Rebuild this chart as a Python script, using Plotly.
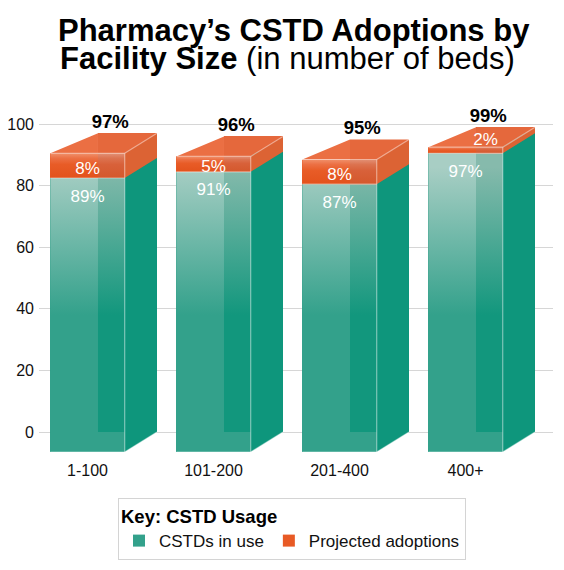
import plotly.graph_objects as go

# data
categories = ["1-100", "101-200", "201-400", "400+"]
in_use = [89, 91, 87, 97]        # CSTDs in use (%)
projected = [8, 5, 8, 2]         # projected adoptions (%)
totals = [a + b for a, b in zip(in_use, projected)]

# pseudo-3D box geometry (axis units)
FW = 0.59      # front face width
BW = 0.468     # back face width
DX = 0.317     # back face shift to the right
DEPTH = 6.5    # front face drop below the back face

TEAL_BACK = "#0e967c"
ORANGE = "#e85a25"
FONT = "Liberation Sans"


def polys(shapes):
    xs, ys = [], []
    for pts in shapes:
        xs += [p[0] for p in pts] + [pts[0][0], None]
        ys += [p[1] for p in pts] + [pts[0][1], None]
    return xs, ys


def rect(x0, x1, y0, y1):
    return [(x0, y0), (x1, y0), (x1, y1), (x0, y1)]


def poly_trace(shapes, color=None, gradient=None):
    xs, ys = polys(shapes)
    tr = dict(x=xs, y=ys, mode="lines", line=dict(width=0), fill="toself",
              hoverinfo="skip", showlegend=False)
    if gradient is not None:
        tr["fillgradient"] = gradient
    else:
        tr["fillcolor"] = color
    return go.Scatter(**tr)


idx = list(range(len(categories)))
geo = []
for i in idx:
    geo.append(dict(fl=i - FW / 2, fr=i + FW / 2,
                    bl=i + DX - BW / 2, br=i + DX + BW / 2,
                    g=in_use[i], t=totals[i], p=projected[i]))

fig = go.Figure()

# back faces (at the axis scale)
fig.add_trace(go.Bar(x=[i + DX for i in idx], y=in_use, base=0, width=BW,
                     marker=dict(color=TEAL_BACK, line=dict(width=0)),
                     showlegend=False, hoverinfo="skip"))
fig.add_trace(go.Bar(x=[i + DX for i in idx], y=projected, base=in_use, width=BW,
                     marker=dict(color="#e4683c", line=dict(width=0)),
                     showlegend=False, hoverinfo="skip"))

# front faces
fig.add_trace(go.Bar(x=idx, y=in_use, base=[-DEPTH] * len(idx), width=FW,
                     name="CSTDs in use",
                     marker=dict(color="rgba(23,148,123,0.88)", line=dict(width=0)),
                     hoverinfo="skip"))
fig.add_trace(go.Bar(x=idx, y=projected, base=[g - DEPTH for g in in_use], width=FW,
                     name="Projected adoptions",
                     marker=dict(color=ORANGE, line=dict(width=0)),
                     hoverinfo="skip"))

# front green face with its glassy gradient
fig.add_trace(poly_trace(
    [rect(d["fl"], d["fr"], -DEPTH, d["g"] - DEPTH) for d in geo],
    gradient=dict(type="vertical", start=38, stop=86,
                  colorscale=[[0, "rgb(51,161,139)"], [1, "rgb(168,206,196)"]])))
# back face seen through the front
fig.add_trace(poly_trace(
    [rect(d["bl"], d["fr"], 0, d["g"] - DEPTH) for d in geo],
    gradient=dict(type="vertical", start=38, stop=86,
                  colorscale=[[0, "rgb(18,151,125)"], [1, "rgb(134,186,172)"]])))

# front orange faces (gradient per bar)
for d in geo:
    y0, y1 = d["g"] - DEPTH, d["t"] - DEPTH
    fig.add_trace(poly_trace(
        [rect(d["fl"], d["fr"], y0, y1)],
        gradient=dict(type="vertical", start=y0, stop=y1,
                      colorscale=[[0, "#e3521c"], [0.55, "#e85c27"],
                                  [0.8, "#ec7044"], [1, "#f0906a"]])))
    fig.add_trace(poly_trace(
        [rect(d["bl"], d["fr"], y0, y1)],
        gradient=dict(type="vertical", start=y0, stop=y1,
                      colorscale=[[0, "#d4582c"], [0.55, "#d8613a"],
                                  [0.8, "#dc7350"], [1, "#e29075"]])))

# side faces
fig.add_trace(poly_trace(
    [[(d["fr"], -DEPTH), (d["br"], 0), (d["br"], d["g"]), (d["fr"], d["g"] - DEPTH)]
     for d in geo], color=TEAL_BACK))
fig.add_trace(poly_trace(
    [[(d["fr"], d["g"] - DEPTH), (d["br"], d["g"]), (d["br"], d["t"]), (d["fr"], d["t"] - DEPTH)]
     for d in geo], color="#dc6334"))

# top faces
fig.add_trace(poly_trace(
    [[(d["fl"], d["t"] - DEPTH), (d["bl"], d["t"]), (d["bl"], d["t"] - DEPTH)] for d in geo],
    color="#eb6f43"))
fig.add_trace(poly_trace(
    [[(d["bl"], d["t"] - DEPTH), (d["bl"], d["t"]), (d["br"], d["t"]), (d["fr"], d["t"] - DEPTH)]
     for d in geo], color="#e5683c"))

# light edges
ex, ey = [], []
for d in geo:
    segs = [
        [(d["fr"], -DEPTH), (d["fr"], d["t"] - DEPTH)],
        [(d["fl"], d["t"] - DEPTH), (d["fr"], d["t"] - DEPTH)],
        [(d["fl"], -DEPTH), (d["fr"], -DEPTH)],
        [(d["fl"], d["g"] - DEPTH), (d["fr"], d["g"] - DEPTH)],
        [(d["fr"], d["t"] - DEPTH), (d["br"], d["t"])],
        [(d["fr"], -DEPTH), (d["br"], 0)],
    ]
    for s in segs:
        ex += [s[0][0], s[1][0], None]
        ey += [s[0][1], s[1][1], None]
fig.add_trace(go.Scatter(x=ex, y=ey, mode="lines",
                         line=dict(color="rgba(255,255,255,0.45)", width=1.2),
                         hoverinfo="skip", showlegend=False))

# labels
fig.add_trace(go.Scatter(
    x=[i + 0.18 for i in idx], y=[t + 3.3 for t in totals], mode="text",
    text=[f"{t}%" for t in totals],
    textfont=dict(family=FONT, size=18.5, color="#000000", weight="bold"),
    hoverinfo="skip", showlegend=False))
fig.add_trace(go.Scatter(
    x=idx, y=[g - DEPTH - 6.3 for g in in_use], mode="text",
    text=[f"{g}%" for g in in_use],
    textfont=dict(family=FONT, size=17, color="#ffffff"),
    hoverinfo="skip", showlegend=False))
px_, py_ = [], []
for d, i in zip(geo, idx):
    if d["p"] >= 4:
        px_.append(i)
        py_.append(d["g"] - DEPTH + d["p"] / 2 - 1.3)
    else:   # too thin: sits on the top face
        px_.append(i + DX / 2)
        py_.append(d["t"] - DEPTH / 2 - 1.3)
fig.add_trace(go.Scatter(
    x=px_, y=py_, mode="text", text=[f"{p}%" for p in projected],
    textfont=dict(family=FONT, size=17, color="#ffffff"),
    hoverinfo="skip", showlegend=False))

fig.update_layout(
    width=556, height=562,
    margin=dict(l=31, r=11, t=89, b=117, autoexpand=False),
    paper_bgcolor="white", plot_bgcolor="white",
    font=dict(family=FONT, color="#111111"),
    barmode="overlay", bargap=0,
    hovermode=False,
    xaxis=dict(range=[-0.385, 3.694], tickvals=idx, ticktext=categories,
               showgrid=False, zeroline=False, showline=False, ticks="",
               tickfont=dict(size=16, color="#111111"), ticklabelstandoff=6,
               automargin=False, fixedrange=True),
    yaxis=dict(range=[-6.8, 108.8], tickvals=[0, 20, 40, 60, 80, 100],
               showgrid=True, gridcolor="#d6d6d6", gridwidth=1, zeroline=False,
               showline=False, ticks="", tickfont=dict(size=16, color="#111111"),
               ticklabelstandoff=4, automargin=False, fixedrange=True),
    legend=dict(orientation="h", xref="container", yref="container",
                x=0.1978, xanchor="left", y=0.1281, yanchor="top",
                bordercolor="#d4d4d4", borderwidth=1, bgcolor="white",
                font=dict(size=17, color="#111111"), itemwidth=30,
                title=dict(text="<b>Key: CSTD Usage</b>", side="top",
                           font=dict(size=18.5, color="#000000"))),
    annotations=[
        dict(text="<b>Pharmacy’s CSTD Adoptions by</b>", xref="paper", yref="paper",
             x=0.496, y=1.187, xanchor="center", yanchor="middle", showarrow=False,
             font=dict(size=31, color="#000000")),
        dict(text="<b>Facility Size</b> (in number of beds)", xref="paper", yref="paper",
             x=0.4825, y=1.107, xanchor="center", yanchor="middle", showarrow=False,
             font=dict(size=31, color="#000000")),
    ],
    shapes=[dict(type="line", xref="paper", yref="paper",
                 x0=0.169, x1=0.4805, y0=-0.2219, y1=-0.2219,
                 line=dict(color="#8c8c8c", width=1))],
)

fig.write_html("out.html")
